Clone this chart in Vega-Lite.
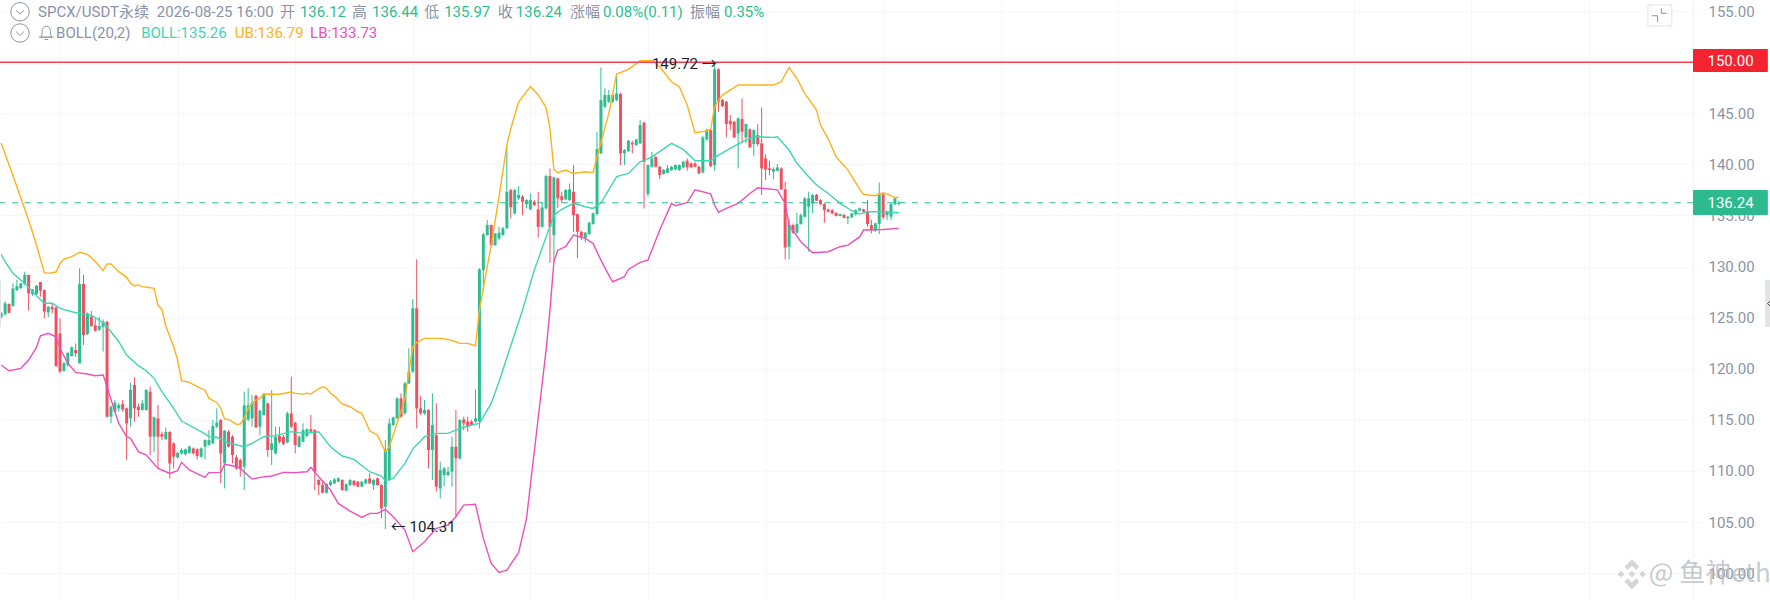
{
  "$schema": "https://vega.github.io/schema/vega-lite/v6.json",
  "width": 1693,
  "height": 600,
  "autosize": "none",
  "padding": {"left": 0, "top": 0, "right": 77, "bottom": 0},
  "background": "white",
  "config": {"font": "Roboto, Noto Sans CJK SC", "view": {"stroke": null}},
  "datasets": {
    "candles": [
      {"k":0,"o":125.03,"h":125.58,"l":124.93,"c":125.42},{"k":1,"o":125.32,"h":126.6,"l":125.2,"c":126.4},{"k":2,"o":126.33,"h":126.4,"l":125.4,"c":125.48},{"k":3,"o":126.14,"h":128.35,"l":126.07,"c":127.86},{"k":4,"o":127.7,"h":128.68,"l":127.6,"c":128.09},{"k":5,"o":127.9,"h":128.4,"l":127.8,"c":128.35},{"k":6,"o":128.29,"h":129.49,"l":128.2,"c":129.17},{"k":7,"o":129.17,"h":129.2,"l":125.68,"c":127.37},{"k":8,"o":127.31,"h":127.8,"l":127.11,"c":127.76},{"k":9,"o":127.31,"h":128.2,"l":127.2,"c":128.12},
      {"k":10,"o":128.48,"h":128.5,"l":127.05,"c":127.64},{"k":11,"o":127.7,"h":127.75,"l":124.93,"c":125.58},{"k":12,"o":125.52,"h":126.1,"l":125.03,"c":126.07},{"k":13,"o":126.07,"h":126.4,"l":125.42,"c":125.81},{"k":14,"o":126.0,"h":126.1,"l":120.2,"c":120.26},{"k":15,"o":123.46,"h":124.93,"l":119.6,"c":119.71},{"k":16,"o":119.81,"h":120.7,"l":119.7,"c":120.53},{"k":17,"o":120.36,"h":121.6,"l":120.2,"c":121.57},{"k":18,"o":121.24,"h":122.2,"l":121.2,"c":122.09},{"k":19,"o":121.83,"h":122.48,"l":121.18,"c":121.5},
      {"k":20,"o":120.53,"h":129.82,"l":120.5,"c":128.29},{"k":21,"o":128.29,"h":129.17,"l":122.32,"c":123.3},{"k":22,"o":123.4,"h":125.5,"l":123.3,"c":125.42},{"k":23,"o":125.09,"h":125.65,"l":124.1,"c":124.18},{"k":24,"o":124.24,"h":124.93,"l":123.62,"c":123.72},{"k":25,"o":123.79,"h":125.09,"l":123.7,"c":124.18},{"k":26,"o":124.11,"h":124.83,"l":121.67,"c":124.6},{"k":27,"o":124.6,"h":124.7,"l":115.2,"c":115.31},{"k":28,"o":115.31,"h":116.4,"l":114.65,"c":116.28},{"k":29,"o":115.8,"h":116.94,"l":115.7,"c":116.68},
      {"k":30,"o":116.12,"h":116.68,"l":115.8,"c":116.45},{"k":31,"o":116.55,"h":116.94,"l":115.8,"c":116.02},{"k":32,"o":116.12,"h":116.2,"l":111.07,"c":114.65},{"k":33,"o":115.14,"h":118.63,"l":114.33,"c":117.92},{"k":34,"o":118.41,"h":119.16,"l":114.82,"c":116.12},{"k":35,"o":116.28,"h":116.61,"l":115.31,"c":115.96},{"k":36,"o":115.96,"h":116.94,"l":115.9,"c":116.61},{"k":37,"o":115.96,"h":118.0,"l":115.9,"c":117.92},{"k":38,"o":117.75,"h":118.24,"l":111.56,"c":113.35},{"k":39,"o":113.35,"h":115.3,"l":111.88,"c":115.24},
      {"k":40,"o":115.14,"h":116.45,"l":110.25,"c":113.35},{"k":41,"o":113.61,"h":113.84,"l":113.02,"c":113.35},{"k":42,"o":113.12,"h":114.26,"l":113.0,"c":113.81},{"k":43,"o":113.81,"h":113.9,"l":109.27,"c":110.74},{"k":44,"o":112.7,"h":112.8,"l":110.25,"c":111.39},{"k":45,"o":111.33,"h":111.85,"l":111.2,"c":111.78},{"k":46,"o":111.72,"h":112.2,"l":111.6,"c":112.05},{"k":47,"o":111.65,"h":112.2,"l":111.5,"c":112.11},{"k":48,"o":111.78,"h":112.5,"l":111.7,"c":112.37},{"k":49,"o":112.2,"h":112.3,"l":111.6,"c":111.72},
      {"k":50,"o":112.14,"h":112.2,"l":111.13,"c":111.46},{"k":51,"o":111.39,"h":112.3,"l":111.3,"c":112.2},{"k":52,"o":112.37,"h":113.1,"l":111.13,"c":113.02},{"k":53,"o":112.53,"h":114.0,"l":112.5,"c":113.02},{"k":54,"o":112.7,"h":114.98,"l":112.6,"c":114.39},{"k":55,"o":114.33,"h":116.12,"l":114.2,"c":114.72},{"k":56,"o":114.98,"h":115.1,"l":108.78,"c":111.72},{"k":57,"o":110.74,"h":114.0,"l":108.29,"c":113.94},{"k":58,"o":113.84,"h":114.0,"l":112.3,"c":112.37},{"k":59,"o":113.35,"h":113.5,"l":110.74,"c":111.56},
      {"k":60,"o":111.33,"h":111.56,"l":110.1,"c":110.25},{"k":61,"o":111.07,"h":111.2,"l":109.44,"c":110.25},{"k":62,"o":110.42,"h":117.75,"l":108.13,"c":116.41},{"k":63,"o":115.0,"h":118.1,"l":114.9,"c":116.4},{"k":64,"o":115.14,"h":117.43,"l":114.33,"c":116.67},{"k":65,"o":117.36,"h":117.45,"l":114.2,"c":114.26},{"k":66,"o":114.33,"h":116.0,"l":113.51,"c":115.89},{"k":67,"o":115.47,"h":117.6,"l":115.4,"c":117.52},{"k":68,"o":116.61,"h":116.7,"l":111.39,"c":112.04},{"k":69,"o":112.04,"h":117.91,"l":110.58,"c":112.7},
      {"k":70,"o":111.72,"h":114.33,"l":111.6,"c":113.35},{"k":71,"o":113.41,"h":114.33,"l":112.7,"c":112.86},{"k":72,"o":113.35,"h":113.5,"l":112.5,"c":112.63},{"k":73,"o":112.79,"h":115.8,"l":112.7,"c":115.63},{"k":74,"o":115.63,"h":119.22,"l":114.2,"c":114.33},{"k":75,"o":114.72,"h":114.8,"l":111.72,"c":112.53},{"k":76,"o":112.37,"h":113.5,"l":112.3,"c":113.35},{"k":77,"o":112.86,"h":114.65,"l":112.8,"c":114.0},{"k":78,"o":113.41,"h":114.2,"l":113.3,"c":114.07},{"k":79,"o":114.07,"h":115.47,"l":113.7,"c":113.84},
      {"k":80,"o":114.0,"h":114.1,"l":108.13,"c":109.92},{"k":81,"o":109.11,"h":109.2,"l":107.64,"c":108.62},{"k":82,"o":108.62,"h":109.11,"l":107.8,"c":107.87},{"k":83,"o":107.87,"h":108.8,"l":107.8,"c":108.72},{"k":84,"o":108.62,"h":109.1,"l":108.5,"c":108.95},{"k":85,"o":108.78,"h":109.3,"l":108.7,"c":109.17},{"k":86,"o":108.95,"h":109.4,"l":108.9,"c":109.27},{"k":87,"o":109.11,"h":109.2,"l":108.05,"c":108.13},{"k":88,"o":108.07,"h":108.8,"l":108.0,"c":108.68},{"k":89,"o":108.62,"h":109.2,"l":108.5,"c":109.11},
      {"k":90,"o":109.04,"h":109.1,"l":108.5,"c":108.62},{"k":91,"o":108.95,"h":109.0,"l":108.4,"c":108.46},{"k":92,"o":108.46,"h":109.0,"l":108.4,"c":108.95},{"k":93,"o":108.78,"h":109.25,"l":108.7,"c":109.17},{"k":94,"o":109.27,"h":109.76,"l":108.7,"c":108.78},{"k":95,"o":108.62,"h":109.2,"l":108.13,"c":109.11},{"k":96,"o":109.27,"h":109.35,"l":108.55,"c":108.62},{"k":97,"o":108.62,"h":108.7,"l":105.36,"c":106.33},{"k":98,"o":106.5,"h":113.02,"l":104.31,"c":112.04},{"k":99,"o":109.11,"h":115.14,"l":109.0,"c":114.65},
      {"k":100,"o":114.49,"h":115.3,"l":114.4,"c":115.24},{"k":101,"o":115.14,"h":117.2,"l":115.1,"c":117.1},{"k":102,"o":117.1,"h":117.59,"l":115.2,"c":115.31},{"k":103,"o":115.63,"h":118.7,"l":115.5,"c":118.57},{"k":104,"o":118.57,"h":122.0,"l":118.5,"c":119.71},{"k":105,"o":119.71,"h":126.79,"l":119.6,"c":125.91},{"k":106,"o":125.91,"h":130.7,"l":114.16,"c":116.12},{"k":107,"o":116.12,"h":117.36,"l":115.5,"c":115.63},{"k":108,"o":115.63,"h":116.94,"l":115.5,"c":115.96},{"k":109,"o":115.96,"h":116.05,"l":110.25,"c":112.04},
      {"k":110,"o":112.04,"h":117.59,"l":109.11,"c":114.49},{"k":111,"o":113.51,"h":116.61,"l":107.97,"c":108.46},{"k":112,"o":108.29,"h":110.9,"l":107.31,"c":110.09},{"k":113,"o":109.6,"h":110.4,"l":108.46,"c":110.25},{"k":114,"o":109.6,"h":110.41,"l":109.5,"c":109.92},{"k":115,"o":109.92,"h":113.35,"l":108.46,"c":112.37},{"k":116,"o":112.37,"h":115.96,"l":105.52,"c":111.23},{"k":117,"o":111.23,"h":115.05,"l":111.1,"c":114.98},{"k":118,"o":115.04,"h":115.31,"l":114.0,"c":114.65},{"k":119,"o":114.82,"h":115.31,"l":113.84,"c":114.33},
      {"k":120,"o":114.82,"h":115.0,"l":114.4,"c":114.49},{"k":121,"o":114.82,"h":117.98,"l":114.7,"c":115.14},{"k":122,"o":114.82,"h":129.85,"l":114.16,"c":129.72},{"k":123,"o":129.65,"h":133.3,"l":127.7,"c":133.14},{"k":124,"o":133.08,"h":134.55,"l":133.0,"c":134.06},{"k":125,"o":134.06,"h":134.1,"l":132.0,"c":132.1},{"k":126,"o":132.1,"h":133.3,"l":132.0,"c":133.24},{"k":127,"o":132.75,"h":133.9,"l":132.59,"c":133.31},{"k":128,"o":133.08,"h":133.9,"l":133.0,"c":133.73},{"k":129,"o":133.73,"h":141.72,"l":133.7,"c":137.32},
      {"k":130,"o":137.48,"h":137.6,"l":134.71,"c":135.79},{"k":131,"o":135.2,"h":137.6,"l":135.1,"c":137.48},{"k":132,"o":136.67,"h":137.87,"l":136.5,"c":137.0},{"k":133,"o":136.83,"h":137.0,"l":135.03,"c":136.34},{"k":134,"o":136.11,"h":136.6,"l":135.69,"c":136.5},{"k":135,"o":135.59,"h":137.16,"l":135.5,"c":136.5},{"k":136,"o":136.34,"h":136.5,"l":135.9,"c":136.01},{"k":137,"o":135.59,"h":137.32,"l":132.82,"c":133.89},{"k":138,"o":133.89,"h":136.24,"l":133.8,"c":135.79},{"k":139,"o":135.69,"h":139.0,"l":135.6,"c":138.85},
      {"k":140,"o":138.85,"h":139.6,"l":130.37,"c":133.89},{"k":141,"o":133.08,"h":138.8,"l":130.47,"c":138.72},{"k":142,"o":138.62,"h":138.7,"l":135.75,"c":136.67},{"k":143,"o":136.89,"h":137.32,"l":136.18,"c":136.5},{"k":144,"o":136.57,"h":137.6,"l":136.5,"c":137.48},{"k":145,"o":136.5,"h":138.13,"l":136.4,"c":137.55},{"k":146,"o":137.32,"h":139.93,"l":133.4,"c":135.03},{"k":147,"o":135.13,"h":135.2,"l":130.8,"c":133.4},{"k":148,"o":133.4,"h":133.5,"l":132.59,"c":132.92},{"k":149,"o":132.75,"h":133.4,"l":132.33,"c":133.31},
      {"k":150,"o":133.18,"h":134.4,"l":133.1,"c":134.29},{"k":151,"o":134.15,"h":135.3,"l":134.1,"c":135.2},{"k":152,"o":135.13,"h":143.19,"l":135.0,"c":141.49},{"k":153,"o":141.07,"h":149.48,"l":141.0,"c":146.29},{"k":154,"o":145.64,"h":147.43,"l":145.5,"c":146.78},{"k":155,"o":146.13,"h":147.27,"l":146.0,"c":146.78},{"k":156,"o":146.13,"h":146.9,"l":146.0,"c":146.78},{"k":157,"o":146.29,"h":148.73,"l":146.2,"c":146.94},{"k":158,"o":146.88,"h":147.0,"l":139.93,"c":141.07},{"k":159,"o":141.07,"h":141.5,"l":139.93,"c":141.4},
      {"k":160,"o":141.3,"h":142.4,"l":141.2,"c":142.31},{"k":161,"o":142.11,"h":142.3,"l":141.07,"c":141.95},{"k":162,"o":141.88,"h":142.5,"l":141.8,"c":142.44},{"k":163,"o":142.05,"h":144.33,"l":142.0,"c":143.84},{"k":164,"o":144.07,"h":144.2,"l":135.69,"c":140.25},{"k":165,"o":137.09,"h":140.0,"l":136.83,"c":139.93},{"k":166,"o":139.76,"h":141.23,"l":139.7,"c":140.58},{"k":167,"o":140.74,"h":140.85,"l":139.7,"c":139.76},{"k":168,"o":139.76,"h":139.85,"l":138.56,"c":138.95},{"k":169,"o":139.05,"h":139.55,"l":139.0,"c":139.44},
      {"k":170,"o":139.18,"h":139.93,"l":139.1,"c":139.6},{"k":171,"o":139.44,"h":139.85,"l":139.35,"c":139.76},{"k":172,"o":139.5,"h":140.0,"l":139.4,"c":139.93},{"k":173,"o":139.44,"h":140.0,"l":139.35,"c":139.93},{"k":174,"o":139.7,"h":140.35,"l":139.6,"c":140.25},{"k":175,"o":140.35,"h":140.58,"l":139.37,"c":139.7},{"k":176,"o":140.09,"h":140.2,"l":139.6,"c":139.7},{"k":177,"o":140.09,"h":140.2,"l":139.7,"c":139.76},{"k":178,"o":139.76,"h":139.85,"l":139.05,"c":139.11},{"k":179,"o":139.21,"h":142.8,"l":139.1,"c":142.63},
      {"k":180,"o":142.44,"h":143.5,"l":142.3,"c":143.35},{"k":181,"o":143.35,"h":143.45,"l":139.7,"c":139.83},{"k":182,"o":139.93,"h":149.72,"l":139.37,"c":149.29},{"k":183,"o":149.29,"h":149.4,"l":145.15,"c":146.13},{"k":184,"o":146.29,"h":146.4,"l":145.6,"c":145.7},{"k":185,"o":146.13,"h":146.2,"l":142.63,"c":143.94},{"k":186,"o":144.27,"h":144.82,"l":143.35,"c":143.94},{"k":187,"o":144.17,"h":144.25,"l":142.55,"c":142.63},{"k":188,"o":143.03,"h":144.6,"l":139.6,"c":144.49},{"k":189,"o":144.43,"h":146.45,"l":142.05,"c":143.19},
      {"k":190,"o":142.63,"h":144.0,"l":142.05,"c":143.94},{"k":191,"o":143.42,"h":143.5,"l":141.6,"c":141.66},{"k":192,"o":141.98,"h":143.45,"l":140.81,"c":143.35},{"k":193,"o":142.86,"h":143.94,"l":141.79,"c":141.98},{"k":194,"o":142.05,"h":145.57,"l":137.0,"c":139.6},{"k":195,"o":140.58,"h":140.97,"l":138.46,"c":139.5},{"k":196,"o":139.6,"h":140.35,"l":138.95,"c":139.44},{"k":197,"o":139.28,"h":139.7,"l":138.53,"c":139.54},{"k":198,"o":139.37,"h":140.03,"l":139.3,"c":139.7},{"k":199,"o":139.6,"h":139.7,"l":137.5,"c":137.55},
      {"k":200,"o":137.55,"h":138.3,"l":130.7,"c":131.87},{"k":201,"o":131.94,"h":134.71,"l":130.7,"c":134.06},{"k":202,"o":134.06,"h":134.2,"l":133.2,"c":133.31},{"k":203,"o":133.31,"h":135.26,"l":133.2,"c":134.15},{"k":204,"o":134.15,"h":135.2,"l":134.1,"c":135.03},{"k":205,"o":134.87,"h":136.8,"l":134.8,"c":136.67},{"k":206,"o":135.85,"h":137.32,"l":131.45,"c":136.67},{"k":207,"o":136.18,"h":137.1,"l":135.2,"c":137.0},{"k":208,"o":137.0,"h":137.1,"l":136.4,"c":136.44},{"k":209,"o":136.5,"h":136.6,"l":136.0,"c":136.11},
      {"k":210,"o":136.11,"h":136.2,"l":134.29,"c":135.52},{"k":211,"o":135.59,"h":135.65,"l":135.3,"c":135.36},{"k":212,"o":135.52,"h":135.6,"l":135.1,"c":135.2},{"k":213,"o":135.26,"h":135.3,"l":134.9,"c":134.94},{"k":214,"o":134.94,"h":135.2,"l":134.9,"c":135.13},{"k":215,"o":135.07,"h":135.1,"l":134.7,"c":134.77},{"k":216,"o":134.71,"h":134.95,"l":134.15,"c":134.87},{"k":217,"o":134.81,"h":135.25,"l":134.75,"c":135.2},{"k":218,"o":135.1,"h":135.6,"l":135.0,"c":135.52},{"k":219,"o":135.46,"h":135.75,"l":135.4,"c":135.69},
      {"k":220,"o":135.59,"h":135.65,"l":135.3,"c":135.36},{"k":221,"o":135.43,"h":136.5,"l":133.89,"c":134.15},{"k":222,"o":134.06,"h":134.55,"l":133.24,"c":133.57},{"k":223,"o":133.5,"h":134.3,"l":133.4,"c":134.22},{"k":224,"o":134.15,"h":138.23,"l":133.18,"c":137.16},{"k":225,"o":137.06,"h":137.15,"l":134.61,"c":134.81},{"k":226,"o":135.03,"h":135.45,"l":134.55,"c":135.36},{"k":227,"o":134.87,"h":136.2,"l":134.55,"c":136.11},{"k":228,"o":136.11,"h":136.75,"l":136.0,"c":136.67},{"k":229,"o":136.12,"h":136.44,"l":135.97,"c":136.24}
    ],
    "bands": [
      {"k":0,"band":"UB","p":142.08},{"k":3,"band":"UB","p":138.9},{"k":5,"band":"UB","p":136.7},{"k":7,"band":"UB","p":134.55},{"k":9,"band":"UB","p":132.1},{"k":11,"band":"UB","p":129.4},{"k":12,"band":"UB","p":129.33},{"k":14,"band":"UB","p":129.46},{"k":15,"band":"UB","p":130.3},{"k":16,"band":"UB","p":130.73},{"k":18,"band":"UB","p":130.96},{"k":20,"band":"UB","p":131.4},{"k":22,"band":"UB","p":131.2},{"k":24,"band":"UB","p":130.5},{"k":26,"band":"UB","p":129.6},{"k":27,"band":"UB","p":130.25},{"k":28,"band":"UB","p":130.25},{"k":30,"band":"UB","p":129.5},{"k":32,"band":"UB","p":128.94},{"k":33,"band":"UB","p":128.35},{"k":34,"band":"UB","p":128.1},{"k":35,"band":"UB","p":128.2},{"k":36,"band":"UB","p":128.03},{"k":38,"band":"UB","p":127.93},{"k":39,"band":"UB","p":127.86},{"k":40,"band":"UB","p":126.23},{"k":41,"band":"UB","p":125.8},{"k":42,"band":"UB","p":124.18},{"k":44,"band":"UB","p":122.16},{"k":45,"band":"UB","p":120.85},{"k":46,"band":"UB","p":118.83},{"k":48,"band":"UB","p":118.67},{"k":50,"band":"UB","p":118.24},{"k":52,"band":"UB","p":117.9},{"k":53,"band":"UB","p":117.1},{"k":55,"band":"UB","p":116.7},{"k":56,"band":"UB","p":116.12},{"k":57,"band":"UB","p":115.08},{"k":58,"band":"UB","p":115.05},{"k":60,"band":"UB","p":114.56},{"k":61,"band":"UB","p":114.59},{"k":62,"band":"UB","p":115.14},{"k":63,"band":"UB","p":116.12},{"k":64,"band":"UB","p":116.6},{"k":65,"band":"UB","p":116.94},{"k":66,"band":"UB","p":117.1},{"k":67,"band":"UB","p":117.52},{"k":71,"band":"UB","p":117.5},{"k":73,"band":"UB","p":117.65},{"k":74,"band":"UB","p":117.75},{"k":75,"band":"UB","p":117.59},{"k":77,"band":"UB","p":117.52},{"k":78,"band":"UB","p":117.6},{"k":79,"band":"UB","p":117.52},{"k":81,"band":"UB","p":118.04},{"k":82,"band":"UB","p":118.24},{"k":83,"band":"UB","p":118.08},{"k":84,"band":"UB","p":117.59},{"k":85,"band":"UB","p":117.33},{"k":87,"band":"UB","p":116.55},{"k":89,"band":"UB","p":116.28},{"k":91,"band":"UB","p":115.79},{"k":92,"band":"UB","p":115.63},{"k":93,"band":"UB","p":114.82},{"k":94,"band":"UB","p":113.93},{"k":96,"band":"UB","p":113.5},{"k":97,"band":"UB","p":112.7},{"k":98,"band":"UB","p":111.88},{"k":99,"band":"UB","p":112.37},{"k":101,"band":"UB","p":114.65},{"k":103,"band":"UB","p":117.1},{"k":105,"band":"UB","p":122.15},{"k":106,"band":"UB","p":122.55},{"k":108,"band":"UB","p":122.97},{"k":110,"band":"UB","p":122.97},{"k":112,"band":"UB","p":122.97},{"k":114,"band":"UB","p":122.87},{"k":116,"band":"UB","p":122.64},{"k":117,"band":"UB","p":122.48},{"k":119,"band":"UB","p":122.48},{"k":121,"band":"UB","p":122.25},{"k":122,"band":"UB","p":125.74},{"k":125,"band":"UB","p":132.1},{"k":127,"band":"UB","p":136.83},{"k":129,"band":"UB","p":141.88},{"k":130,"band":"UB","p":143.5},{"k":132,"band":"UB","p":146.1},{"k":135,"band":"UB","p":147.6},{"k":137,"band":"UB","p":146.8},{"k":139,"band":"UB","p":145.57},{"k":140,"band":"UB","p":143.5},{"k":141,"band":"UB","p":139.5},{"k":142,"band":"UB","p":139.18},{"k":144,"band":"UB","p":139.44},{"k":146,"band":"UB","p":139.1},{"k":149,"band":"UB","p":139.28},{"k":151,"band":"UB","p":139.18},{"k":152,"band":"UB","p":140.74},{"k":155,"band":"UB","p":144.98},{"k":157,"band":"UB","p":148.83},{"k":160,"band":"UB","p":149.29},{"k":163,"band":"UB","p":150.14},{"k":166,"band":"UB","p":150.14},{"k":168,"band":"UB","p":149.55},{"k":171,"band":"UB","p":148.08},{"k":173,"band":"UB","p":147.59},{"k":175,"band":"UB","p":145.8},{"k":177,"band":"UB","p":143.1},{"k":179,"band":"UB","p":143.2},{"k":181,"band":"UB","p":143.42},{"k":182,"band":"UB","p":145.64},{"k":183,"band":"UB","p":146.29},{"k":184,"band":"UB","p":146.78},{"k":188,"band":"UB","p":147.76},{"k":197,"band":"UB","p":147.76},{"k":199,"band":"UB","p":148.08},{"k":201,"band":"UB","p":149.48},{"k":203,"band":"UB","p":148.4},{"k":205,"band":"UB","p":146.94},{"k":208,"band":"UB","p":145.3},{"k":209,"band":"UB","p":143.84},{"k":211,"band":"UB","p":142.5},{"k":213,"band":"UB","p":140.74},{"k":216,"band":"UB","p":139.44},{"k":219,"band":"UB","p":137.6},{"k":220,"band":"UB","p":137.06},{"k":223,"band":"UB","p":136.93},{"k":225,"band":"UB","p":137.22},{"k":226,"band":"UB","p":137.1},{"k":228,"band":"UB","p":136.73},{"k":229,"band":"UB","p":136.79},
      {"k":0,"band":"BOLL","p":131.19},{"k":1,"band":"BOLL","p":130.47},{"k":3,"band":"BOLL","p":129.33},{"k":6,"band":"BOLL","p":128.35},{"k":8,"band":"BOLL","p":127.54},{"k":11,"band":"BOLL","p":126.4},{"k":13,"band":"BOLL","p":126.4},{"k":15,"band":"BOLL","p":125.9},{"k":18,"band":"BOLL","p":125.58},{"k":21,"band":"BOLL","p":125.32},{"k":23,"band":"BOLL","p":125.25},{"k":26,"band":"BOLL","p":124.5},{"k":27,"band":"BOLL","p":124.11},{"k":30,"band":"BOLL","p":122.64},{"k":32,"band":"BOLL","p":121.34},{"k":35,"band":"BOLL","p":120.3},{"k":37,"band":"BOLL","p":119.8},{"k":39,"band":"BOLL","p":119.06},{"k":41,"band":"BOLL","p":117.75},{"k":44,"band":"BOLL","p":116.12},{"k":46,"band":"BOLL","p":114.88},{"k":51,"band":"BOLL","p":113.84},{"k":53,"band":"BOLL","p":113.35},{"k":55,"band":"BOLL","p":113.29},{"k":58,"band":"BOLL","p":112.76},{"k":62,"band":"BOLL","p":112.37},{"k":64,"band":"BOLL","p":112.7},{"k":67,"band":"BOLL","p":113.35},{"k":70,"band":"BOLL","p":113.45},{"k":74,"band":"BOLL","p":113.84},{"k":77,"band":"BOLL","p":113.67},{"k":81,"band":"BOLL","p":113.84},{"k":84,"band":"BOLL","p":112.37},{"k":87,"band":"BOLL","p":111.46},{"k":90,"band":"BOLL","p":111.13},{"k":94,"band":"BOLL","p":109.92},{"k":97,"band":"BOLL","p":109.5},{"k":98,"band":"BOLL","p":109.04},{"k":100,"band":"BOLL","p":109.27},{"k":103,"band":"BOLL","p":110.74},{"k":105,"band":"BOLL","p":112.14},{"k":108,"band":"BOLL","p":113.35},{"k":111,"band":"BOLL","p":113.67},{"k":114,"band":"BOLL","p":113.67},{"k":117,"band":"BOLL","p":114.16},{"k":120,"band":"BOLL","p":114.49},{"k":122,"band":"BOLL","p":114.65},{"k":125,"band":"BOLL","p":116.6},{"k":127,"band":"BOLL","p":118.73},{"k":133,"band":"BOLL","p":125.74},{"k":136,"band":"BOLL","p":129.65},{"k":141,"band":"BOLL","p":135.03},{"k":143,"band":"BOLL","p":135.6},{"k":146,"band":"BOLL","p":136.18},{"k":149,"band":"BOLL","p":135.85},{"k":151,"band":"BOLL","p":135.69},{"k":153,"band":"BOLL","p":136.24},{"k":155,"band":"BOLL","p":137.5},{"k":157,"band":"BOLL","p":138.79},{"k":160,"band":"BOLL","p":139.11},{"k":163,"band":"BOLL","p":140.25},{"k":166,"band":"BOLL","p":140.74},{"k":171,"band":"BOLL","p":142.05},{"k":174,"band":"BOLL","p":141.46},{"k":177,"band":"BOLL","p":140.35},{"k":181,"band":"BOLL","p":140.35},{"k":183,"band":"BOLL","p":140.9},{"k":186,"band":"BOLL","p":141.56},{"k":189,"band":"BOLL","p":142.2},{"k":192,"band":"BOLL","p":142.7},{"k":197,"band":"BOLL","p":142.64},{"k":198,"band":"BOLL","p":142.7},{"k":201,"band":"BOLL","p":141.4},{"k":203,"band":"BOLL","p":140.1},{"k":206,"band":"BOLL","p":138.79},{"k":208,"band":"BOLL","p":137.97},{"k":211,"band":"BOLL","p":137.15},{"k":214,"band":"BOLL","p":136.18},{"k":217,"band":"BOLL","p":135.46},{"k":219,"band":"BOLL","p":135.13},{"k":221,"band":"BOLL","p":135.36},{"k":225,"band":"BOLL","p":135.36},{"k":229,"band":"BOLL","p":135.26},
      {"k":0,"band":"LB","p":120.36},{"k":2,"band":"LB","p":119.8},{"k":5,"band":"LB","p":120.04},{"k":7,"band":"LB","p":120.85},{"k":9,"band":"LB","p":122.09},{"k":10,"band":"LB","p":123.23},{"k":12,"band":"LB","p":123.46},{"k":14,"band":"LB","p":123.13},{"k":15,"band":"LB","p":122.0},{"k":17,"band":"LB","p":120.53},{"k":19,"band":"LB","p":119.64},{"k":22,"band":"LB","p":119.48},{"k":24,"band":"LB","p":119.32},{"k":26,"band":"LB","p":119.38},{"k":27,"band":"LB","p":118.24},{"k":29,"band":"LB","p":115.8},{"k":30,"band":"LB","p":114.65},{"k":32,"band":"LB","p":113.35},{"k":33,"band":"LB","p":113.19},{"k":35,"band":"LB","p":111.88},{"k":37,"band":"LB","p":111.56},{"k":40,"band":"LB","p":110.25},{"k":41,"band":"LB","p":110.09},{"k":43,"band":"LB","p":109.76},{"k":45,"band":"LB","p":110.02},{"k":46,"band":"LB","p":110.84},{"k":48,"band":"LB","p":110.09},{"k":52,"band":"LB","p":109.37},{"k":53,"band":"LB","p":109.83},{"k":56,"band":"LB","p":109.86},{"k":57,"band":"LB","p":110.64},{"k":59,"band":"LB","p":110.51},{"k":61,"band":"LB","p":110.25},{"k":64,"band":"LB","p":109.2},{"k":66,"band":"LB","p":109.37},{"k":69,"band":"LB","p":109.5},{"k":72,"band":"LB","p":109.86},{"k":75,"band":"LB","p":109.83},{"k":78,"band":"LB","p":109.92},{"k":79,"band":"LB","p":110.35},{"k":81,"band":"LB","p":109.43},{"k":84,"band":"LB","p":108.13},{"k":86,"band":"LB","p":106.82},{"k":89,"band":"LB","p":106.07},{"k":92,"band":"LB","p":105.45},{"k":94,"band":"LB","p":105.85},{"k":96,"band":"LB","p":105.85},{"k":98,"band":"LB","p":106.24},{"k":100,"band":"LB","p":105.52},{"k":103,"band":"LB","p":104.22},{"k":105,"band":"LB","p":102.1},{"k":108,"band":"LB","p":103.07},{"k":111,"band":"LB","p":104.38},{"k":114,"band":"LB","p":104.7},{"k":116,"band":"LB","p":105.52},{"k":118,"band":"LB","p":106.66},{"k":121,"band":"LB","p":106.73},{"k":123,"band":"LB","p":103.4},{"k":125,"band":"LB","p":100.95},{"k":127,"band":"LB","p":100.07},{"k":129,"band":"LB","p":100.3},{"k":132,"band":"LB","p":102.0},{"k":134,"band":"LB","p":105.3},{"k":137,"band":"LB","p":115.2},{"k":139,"band":"LB","p":121.8},{"k":140,"band":"LB","p":125.74},{"k":141,"band":"LB","p":130.47},{"k":142,"band":"LB","p":131.6},{"k":144,"band":"LB","p":131.94},{"k":146,"band":"LB","p":133.08},{"k":149,"band":"LB","p":132.75},{"k":151,"band":"LB","p":132.26},{"k":153,"band":"LB","p":130.63},{"k":155,"band":"LB","p":129.16},{"k":156,"band":"LB","p":128.51},{"k":159,"band":"LB","p":129.0},{"k":160,"band":"LB","p":129.72},{"k":163,"band":"LB","p":130.4},{"k":165,"band":"LB","p":130.63},{"k":168,"band":"LB","p":133.57},{"k":171,"band":"LB","p":136.18},{"k":172,"band":"LB","p":135.95},{"k":175,"band":"LB","p":136.24},{"k":177,"band":"LB","p":137.5},{"k":181,"band":"LB","p":137.12},{"k":182,"band":"LB","p":136.0},{"k":183,"band":"LB","p":135.3},{"k":185,"band":"LB","p":135.7},{"k":188,"band":"LB","p":136.18},{"k":191,"band":"LB","p":137.15},{"k":193,"band":"LB","p":137.7},{"k":198,"band":"LB","p":137.5},{"k":200,"band":"LB","p":136.18},{"k":201,"band":"LB","p":134.06},{"k":204,"band":"LB","p":132.43},{"k":207,"band":"LB","p":131.35},{"k":211,"band":"LB","p":131.45},{"k":214,"band":"LB","p":131.94},{"k":216,"band":"LB","p":132.1},{"k":219,"band":"LB","p":132.9},{"k":220,"band":"LB","p":133.57},{"k":225,"band":"LB","p":133.63},{"k":229,"band":"LB","p":133.73}
    ],
    "header": [
      {"k":9.4,"p":154.93,"label":"SPCX/USDT永续","role":"muted"},{"k":39.7,"p":154.93,"label":"2026-08-25 16:00","role":"muted"},{"k":71.1,"p":154.93,"label":"开","role":"muted"},{"k":76.2,"p":154.93,"label":"136.12","role":"up"},{"k":89.5,"p":154.93,"label":"高","role":"muted"},{"k":94.6,"p":154.93,"label":"136.44","role":"up"},{"k":107.9,"p":154.93,"label":"低","role":"muted"},{"k":113,"p":154.93,"label":"135.97","role":"up"},{"k":126.7,"p":154.93,"label":"收","role":"muted"},{"k":131.3,"p":154.93,"label":"136.24","role":"up"},{"k":145.1,"p":154.93,"label":"涨幅","role":"muted"},{"k":153.5,"p":154.93,"label":"0.08%(0.11)","role":"up"},{"k":175.7,"p":154.93,"label":"振幅","role":"muted"},{"k":184.4,"p":154.93,"label":"0.35%","role":"up"},
      {"k":14,"p":152.85,"label":"BOLL(20,2)","role":"muted"},{"k":35.7,"p":152.85,"label":"BOLL:135.26","role":"BOLL"},{"k":59.6,"p":152.85,"label":"UB:136.79","role":"UB"},{"k":78.8,"p":152.85,"label":"LB:133.73","role":"LB"},
      {"k":166,"p":149.81,"label":"149.72 →","role":"ink"},{"k":99.4,"p":104.51,"label":"← 104.31","role":"ink"}
    ]
  },
  "layer": [
    {
      "data": {"name": "candles"},
      "mark": {"type": "rule", "strokeWidth": 1},
      "encoding": {
        "x": {
          "field": "k", "type": "quantitative", "title": null,
          "scale": {"domain": [-0.306, 431.6], "nice": false, "zero": false, "padding": 0},
          "axis": {"orient": "bottom", "values": [15,45,75,105,135,165,195,225,255,285,315,345,375,405], "labels": false, "ticks": false, "domain": false, "grid": true, "gridColor": "#f6f7f9", "gridWidth": 1, "zindex": 0}
        },
        "y": {
          "field": "l", "type": "quantitative", "title": null,
          "scale": {"domain": [97.37, 156.08], "nice": false, "zero": false, "padding": 0},
          "axis": {"orient": "right", "values": [100,105,110,115,120,125,130,135,140,145,155], "format": ".2f", "grid": true, "gridColor": "#f6f7f9", "gridWidth": 1, "domainColor": "#f3f4f6", "tickColor": "#f6f7f9", "tickSize": 7, "labelPadding": 8, "labelFontSize": 15, "labelColor": "#8a94a6", "labelFont": "Roboto", "zindex": 0}
        },
        "y2": {"field": "h"},
        "color": {"condition": {"test": "datum.c >= datum.o", "value": "#2ebd92"}, "value": "#f0505f"}
      }
    },
    {
      "data": {"name": "candles"},
      "mark": {"type": "bar", "width": 3},
      "encoding": {
        "x": {"field": "k", "type": "quantitative", "title": null},
        "y": {"field": "o", "type": "quantitative", "title": null},
        "y2": {"field": "c"},
        "color": {"condition": {"test": "datum.c >= datum.o", "value": "#2ebd92"}, "value": "#f0505f"}
      }
    },
    {
      "data": {"name": "bands"},
      "mark": {"type": "line", "strokeWidth": 1.4},
      "encoding": {
        "x": {"field": "k", "type": "quantitative", "title": null},
        "y": {"field": "p", "type": "quantitative", "title": null},
        "color": {
          "field": "band", "type": "nominal", "legend": null,
          "scale": {"domain": ["BOLL","UB","LB","muted","up","ink"], "range": ["#3dd6b3","#ffb11a","#ee4fba","#8a94a6","#2ebd92","#1e2329"]}
        }
      }
    },
    {
      "data": {"values": [{"level": 150}]},
      "mark": {"type": "rule", "stroke": "#f0404f", "strokeWidth": 1.5},
      "encoding": {"y": {"field": "level", "type": "quantitative", "title": null}}
    },
    {
      "data": {"values": [{"level": 136.24}]},
      "mark": {"type": "rule", "stroke": "#2ebd92", "strokeWidth": 1, "strokeDash": [6, 6.5]},
      "encoding": {"y": {"field": "level", "type": "quantitative", "title": null}}
    },
    {
      "data": {"values": [
        {"a":431.6,"b":450.7,"y0":151.28,"y1":149.03,"side":"short"},
        {"a":431.6,"b":450.7,"y0":137.49,"y1":135.04,"side":"last"},
        {"a":450.0,"b":452.0,"y0":128.68,"y1":124.08,"side":"handle"},
        {"a":-0.306,"b":-0.05,"y0":128.68,"y1":124.08,"side":"handle"}
      ]},
      "mark": {"type": "rect", "cornerRadius": 1},
      "encoding": {
        "x": {"field": "a", "type": "quantitative", "title": null},
        "x2": {"field": "b"},
        "y": {"field": "y0", "type": "quantitative", "title": null},
        "y2": {"field": "y1"},
        "fill": {"field": "side", "type": "nominal", "legend": null, "scale": {"domain": ["short","last","handle"], "range": ["#f5222f","#2dba8f","#e2e4e8"]}}
      }
    },
    {
      "data": {"values": [
        {"k":435.3,"p":150.1,"label":"150.00"},
        {"k":435.3,"p":136.24,"label":"136.24"}
      ]},
      "mark": {"type": "text", "align": "left", "baseline": "middle", "fontSize": 15, "font": "Roboto", "color": "white"},
      "encoding": {
        "x": {"field": "k", "type": "quantitative", "title": null},
        "y": {"field": "p", "type": "quantitative", "title": null},
        "text": {"field": "label"}
      }
    },
    {
      "data": {"name": "header"},
      "mark": {"type": "text", "align": "left", "baseline": "middle", "fontSize": 15},
      "encoding": {
        "x": {"field": "k", "type": "quantitative", "title": null},
        "y": {"field": "p", "type": "quantitative", "title": null},
        "text": {"field": "label"},
        "color": {"field": "role", "type": "nominal", "legend": null}
      }
    },
    {
      "data": {"values": [{"k":4.8,"p":154.93},{"k":4.8,"p":152.85}]},
      "mark": {"type": "point", "shape": "circle", "size": 340, "filled": false, "stroke": "#8a94a6", "strokeWidth": 1, "opacity": 1},
      "encoding": {
        "x": {"field": "k", "type": "quantitative", "title": null},
        "y": {"field": "p", "type": "quantitative", "title": null}
      }
    },
    {
      "data": {"values": [{"k":4.8,"p":154.93},{"k":4.8,"p":152.85}]},
      "mark": {"type": "point", "shape": "M-0.42,-0.14L0,0.26L0.42,-0.14", "size": 340, "filled": false, "stroke": "#8a94a6", "strokeWidth": 1, "opacity": 1},
      "encoding": {
        "x": {"field": "k", "type": "quantitative", "title": null},
        "y": {"field": "p", "type": "quantitative", "title": null}
      }
    },
    {
      "data": {"values": [{"k":11.5,"p":152.85}]},
      "mark": {"type": "point", "shape": "M-0.75,0.55C-0.55,0.35-0.55,0.1-0.55,-0.2C-0.55,-0.65-0.25,-0.9,0,-0.9C0.25,-0.9,0.55,-0.65,0.55,-0.2C0.55,0.1,0.55,0.35,0.75,0.55ZM-1,0.55L1,0.55M-0.25,0.85L0.25,0.85", "size": 230, "filled": false, "stroke": "#8a94a6", "strokeWidth": 1, "opacity": 1},
      "encoding": {
        "x": {"field": "k", "type": "quantitative", "title": null},
        "y": {"field": "p", "type": "quantitative", "title": null}
      }
    },
    {
      "data": {"values": [{"a":420.1,"b":426.2,"y0":155.59,"y1":153.53}]},
      "mark": {"type": "rect", "fill": "white", "stroke": "#e0e3e8", "strokeWidth": 1},
      "encoding": {
        "x": {"field": "a", "type": "quantitative", "title": null},
        "x2": {"field": "b"},
        "y": {"field": "y0", "type": "quantitative", "title": null},
        "y2": {"field": "y1"}
      }
    },
    {
      "data": {"values": [{"k":423.1,"p":154.56}]},
      "mark": {"type": "point", "shape": "M0.14,-0.6L0.14,-0.18L0.58,-0.18M-0.67,0.02L-0.17,0.02L-0.17,0.54", "size": 576, "filled": false, "stroke": "#8a94a6", "strokeWidth": 1, "opacity": 1},
      "encoding": {
        "x": {"field": "k", "type": "quantitative", "title": null},
        "y": {"field": "p", "type": "quantitative", "title": null}
      }
    },
    {
      "data": {"values": [{"k":451.0,"p":126.38}]},
      "mark": {"type": "point", "shape": "M0.5,-1L-0.5,0L0.5,1", "size": 36, "filled": false, "stroke": "#474d57", "strokeWidth": 1, "opacity": 1},
      "encoding": {
        "x": {"field": "k", "type": "quantitative", "title": null},
        "y": {"field": "p", "type": "quantitative", "title": null}
      }
    },
    {
      "data": {"values": [{"k":416,"p":99.9}]},
      "mark": {"type": "point", "shape": "M0,-1L0.5,-0.5L0.28,-0.28L0,-0.56L-0.28,-0.28L-0.5,-0.5ZM-0.72,-0.22L-0.5,0L-0.72,0.22L-0.94,0ZM0.72,-0.22L0.94,0L0.72,0.22L0.5,0ZM0,-0.22L0.22,0L0,0.22L-0.22,0ZM-0.5,0.5L-0.28,0.28L0,0.56L0.28,0.28L0.5,0.5L0,1Z", "size": 900, "filled": true, "fill": "#c8ccd2", "stroke": null, "opacity": 0.8},
      "encoding": {
        "x": {"field": "k", "type": "quantitative", "title": null},
        "y": {"field": "p", "type": "quantitative", "title": null}
      }
    },
    {
      "data": {"values": [{"k":420.3,"p":99.9,"label":"@ 鱼神eth"}]},
      "mark": {"type": "text", "align": "left", "baseline": "middle", "fontSize": 26, "font": "Noto Sans CJK SC", "color": "#b5b9bf", "opacity": 0.75},
      "encoding": {
        "x": {"field": "k", "type": "quantitative", "title": null},
        "y": {"field": "p", "type": "quantitative", "title": null},
        "text": {"field": "label"}
      }
    }
  ]
}
